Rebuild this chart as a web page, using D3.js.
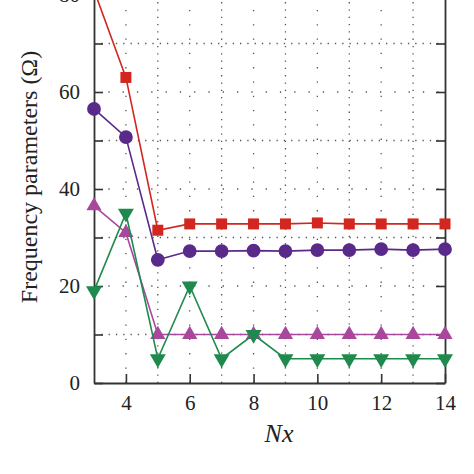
<!DOCTYPE html>
<html>
<head>
  <meta charset="utf-8">
  <script src="https://d3js.org/d3.v7.min.js"></script>
  <style>
    body { margin: 0; background: #fff; }
    .tick-label { font: 21px "Liberation Serif", serif; fill: #222; }
    .axis-title { font: 24px "Liberation Serif", serif; fill: #222; }
  </style>
</head>
<body>
  <script>
    var width = 474,
        height = 474;

    // Nx values
    var nx = [3, 4, 5, 6, 7, 8, 9, 10, 11, 12, 13, 14];

    // series values
    var redSquares   = [81, 63, 31.5, 32.8, 32.8, 32.8, 32.8, 33.0, 32.8, 32.8, 32.8, 32.8];
    var purpleCircles = [56.5, 50.7, 25.4, 27.2, 27.2, 27.3, 27.2, 27.4, 27.4, 27.6, 27.4, 27.6];
    var magentaUp    = [36.5, 31, 10, 10, 10, 10, 10, 10, 10, 10, 10, 10];
    var greenDown    = [19, 35, 5, 20, 5, 10, 5, 5, 5, 5, 5, 5];

    var xTicks = [4, 6, 8, 10, 12, 14];
    var yTicks = [0, 20, 40, 60, 80];
    var xMinor = [3, 5, 7, 9, 11, 13];
    var yMinor = [10, 30, 50, 70];

    var series = [
      {values: redSquares, color: "#d2261f", shape: "square"},
      {values: purpleCircles, color: "#5a2a8b", shape: "circle"},
      {values: magentaUp, color: "#a8489c", shape: "up"},
      {values: greenDown, color: "#1f8a4d", shape: "down"}
    ];

    var plotLeft = 94, plotRight = 445, plotBottom = 383, plotTop = -5;

    var x = d3.scaleLinear().domain([3, 14]).range([plotLeft, plotRight]);
    var y = d3.scaleLinear().domain([0, 80]).range([plotBottom, plotTop]);

    var svg = d3.select("body").append("svg")
        .attr("width", width)
        .attr("height", height);

    // grid: dense dots for minor lines, sparse dots for major
    var grid = svg.append("g").attr("stroke", "#555").attr("stroke-width", 1.3);

    grid.selectAll(".vmin").data(xMinor.filter(function(d) { return d > 3; }))
      .enter().append("line")
        .attr("x1", function(d) { return x(d); }).attr("x2", function(d) { return x(d); })
        .attr("y1", plotBottom).attr("y2", 0)
        .attr("stroke-dasharray", "1.3,6");

    grid.selectAll(".vmaj").data(xTicks.filter(function(d) { return d < 14; }))
      .enter().append("line")
        .attr("x1", function(d) { return x(d); }).attr("x2", function(d) { return x(d); })
        .attr("y1", plotBottom).attr("y2", 0)
        .attr("stroke-dasharray", "1.3,13");

    grid.selectAll(".hmin").data(yMinor)
      .enter().append("line")
        .attr("x1", plotLeft).attr("x2", plotRight)
        .attr("y1", function(d) { return y(d); }).attr("y2", function(d) { return y(d); })
        .attr("stroke-dasharray", "1.3,6");

    grid.selectAll(".hmaj").data(yTicks.filter(function(d) { return d > 0; }))
      .enter().append("line")
        .attr("x1", plotLeft).attr("x2", plotRight)
        .attr("y1", function(d) { return y(d); }).attr("y2", function(d) { return y(d); })
        .attr("stroke-dasharray", "1.3,13");

    // axes (inner ticks)
    var axisColor = "#333";
    var xAxis = d3.axisBottom(x).tickValues(xTicks).tickSizeInner(-9).tickSizeOuter(0).tickPadding(12);
    var yAxis = d3.axisLeft(y).tickValues(yTicks.concat(yMinor)).tickSizeInner(-9).tickSizeOuter(0).tickPadding(14)
        .tickFormat(function(d) { return d % 20 === 0 ? d : ""; });
    var yAxisR = d3.axisRight(y).tickValues(yTicks.concat(yMinor)).tickSizeInner(-9).tickSizeOuter(0).tickFormat("");

    var gx = svg.append("g").attr("transform", "translate(0," + plotBottom + ")").call(xAxis);
    var gy = svg.append("g").attr("transform", "translate(" + plotLeft + ",0)").call(yAxis);
    var gr = svg.append("g").attr("transform", "translate(" + plotRight + ",0)").call(yAxisR);

    [gx, gy, gr].forEach(function(g) {
      g.attr("font-size", null).attr("font-family", null);
      g.select(".domain").attr("stroke", axisColor).attr("stroke-width", 1.8);
      g.selectAll(".tick line").attr("stroke", axisColor).attr("stroke-width", 1.6);
      g.selectAll(".tick text").attr("class", "tick-label").attr("fill", "#222");
    });
    gx.selectAll(".tick text").attr("dy", "0.7em");

    // series
    var line = d3.line()
        .x(function(d, i) { return x(nx[i]); })
        .y(function(d) { return y(d); });

    var symbols = {
      square: d3.symbol().type(d3.symbolSquare).size(121),
      circle: d3.symbol().type(d3.symbolCircle).size(150),
      up: d3.symbol().type(d3.symbolTriangle).size(100),
      down: d3.symbol().type(d3.symbolTriangle).size(110)
    };

    series.forEach(function(s) {
      svg.append("path")
          .datum(s.values)
          .attr("fill", "none")
          .attr("stroke", s.color)
          .attr("stroke-width", 1.6)
          .attr("d", line);

      svg.selectAll(null)
          .data(s.values)
          .enter().append("path")
          .attr("d", symbols[s.shape]())
          .attr("fill", s.color)
          .attr("transform", function(d, i) {
            var t = "translate(" + x(nx[i]) + "," + y(d) + ")";
            return s.shape === "down" ? t + " rotate(180)" : t;
          });
    });

    // titles
    svg.append("text")
        .attr("class", "axis-title")
        .attr("text-anchor", "middle")
        .attr("transform", "translate(37,177) rotate(-90)")
        .text("Frequency parameters (\u03A9)");

    svg.append("text")
        .attr("class", "axis-title")
        .attr("x", 279)
        .attr("y", 442)
        .attr("text-anchor", "middle")
        .style("font-style", "italic")
        .style("font-size", "26px")
        .text("Nx");
  </script>
</body>
</html>
